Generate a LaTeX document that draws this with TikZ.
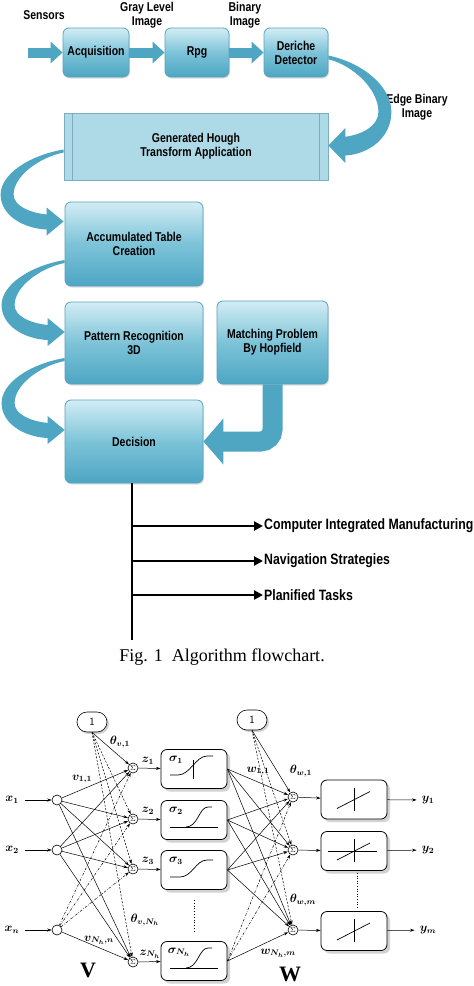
\documentclass[tikz,border=0pt]{standalone}
\usepackage{fontspec}
\setmainfont{Liberation Serif}
\newfontfamily\flfont{Liberation Sans}[FakeStretch=0.82]
\usetikzlibrary{shadows,arrows.meta,calc,shapes.misc}
\definecolor{boxtop}{HTML}{D2EDF5}
\definecolor{boxmid}{HTML}{7DC3D8}
\definecolor{boxbot}{HTML}{4DA6C3}
\definecolor{boxedge}{HTML}{5AA3BB}
\definecolor{arrowc}{HTML}{4FA6C3}
\definecolor{houghfill}{HTML}{AED9E7}
\definecolor{houghedge}{HTML}{7AAEC0}
\newcommand\bandarrow{%
 \fill[arrowc] (0,0) .. controls (-35,6) and (-63,25) .. (-63,45)
   .. controls (-63,66) and (-40,79) .. (-17,80)
   -- (-17,86) -- (0,72) -- (-17,58) -- (-17,65)
   .. controls (-35,63) and (-50,56) .. (-50,45)
   .. controls (-50,27) and (-25,8) .. (0,3) -- cycle;}
\tikzset{
 fbox/.style={rectangle, rounded corners=6pt, draw=boxedge, line width=0.8pt,
   top color=boxtop, bottom color=boxbot, middle color=boxmid,
   inner sep=0pt, align=center, font=\flfont\bfseries\fontsize{12.8}{14}\selectfont,
   drop shadow={opacity=0.25, shadow xshift=1pt, shadow yshift=-1.5pt}},
 flabel/.style={align=center, inner sep=1pt, font=\flfont\bfseries\fontsize{12.8}{14}\selectfont},
 outlabel/.style={anchor=west, inner sep=1pt, font=\flfont\bfseries\fontsize{15}{16}\selectfont},
 blockarrow/.style={line width=10pt, draw=arrowc, -{Triangle[length=12pt,width=21pt]}},
 branch/.style={line width=2.3pt, -{Triangle[length=9pt,width=9pt]}},
 nnline/.style={line width=0.5pt, -{Stealth[length=4.5pt,width=3pt]}},
 dashln/.style={dash pattern=on 2pt off 1.5pt},
 dashdot/.style={dash pattern=on 2.5pt off 1.5pt on 0.6pt off 1.5pt},
 sig/.style={circle, draw, line width=0.6pt, fill=white, inner sep=0pt, minimum size=10pt, font=\fontsize{7}{7}\selectfont},
 inc/.style={circle, draw, line width=0.6pt, fill=white, minimum size=10pt, inner sep=0pt},
 hbox/.style={rectangle, rounded corners=6pt, draw, line width=0.8pt, fill=white,
   minimum width=66pt, minimum height=39pt,
   drop shadow={shadow xshift=3pt, shadow yshift=-3pt, opacity=0.35}},
 biasn/.style={rounded rectangle, draw, line width=0.6pt, fill=white, minimum width=30pt, minimum height=20pt,
   inner sep=0pt, font=\sffamily\fontsize{11}{12}\selectfont,
   drop shadow={shadow xshift=2pt, shadow yshift=-2pt, opacity=0.35}},
 lbl/.style={inner sep=1pt, font=\fontsize{12}{13}\selectfont\boldmath},
 inner/.style={line width=0.7pt},
}
\begin{document}
\begin{tikzpicture}[x=1pt, y=-1pt]
\useasboundingbox (0,0) rectangle (474,986);
\fill[white] (0,0) rectangle (474,986);

% ---------------- flowchart ----------------
\node[flabel] (sens) at (44,15) {Sensors};
\node[flabel] (gray) at (147,15) {Gray Level\\Image};
\node[flabel] (bin) at (245,15) {Binary\\Image};
\node[flabel] (edge) at (417,107) {Edge Binary\\Image};

\node[fbox, minimum width=66pt, minimum height=49pt] (acq) at (96,52.5) {Acquisition};
\node[fbox, minimum width=64pt, minimum height=49pt] (rpg) at (197,52.5) {Rpg};
\node[fbox, minimum width=64pt, minimum height=49pt] (der) at (296,52.5) {Deriche\\Detector};

\node[rectangle, draw=houghedge, line width=0.8pt, fill=houghfill, minimum width=264pt, minimum height=67pt,
  align=center, font=\flfont\bfseries\fontsize{12.8}{14}\selectfont] (hough) at (196,146.5)
  {Generated Hough\\Transform Application};
\draw[houghedge, line width=0.8pt] ([xshift=9pt]hough.north west) -- ([xshift=9pt]hough.south west);
\draw[houghedge, line width=0.8pt] ([xshift=-9pt]hough.north east) -- ([xshift=-9pt]hough.south east);

\node[fbox, minimum width=138pt, minimum height=84pt] (acc) at (134,244) {Accumulated Table\\Creation};
\node[fbox, minimum width=138pt, minimum height=82pt] (pat) at (134,343) {Pattern Recognition\\3D};
\node[fbox, minimum width=111pt, minimum height=83pt] (mat) at (272.5,342.5) {Matching Problem\\By Hopfield};
\node[fbox, minimum width=138pt, minimum height=83pt] (dec) at (134,441.5) {Decision};

\coordinate (sensin) at (28,52.5);
\draw[blockarrow] (sensin) -- (acq.west);
\draw[blockarrow] (acq.east) -- (rpg.west);
\draw[blockarrow] (rpg.east) -- (der.west);

\begin{scope}[shift={($(der.east)+(0,3)$)}, xscale=-1, yscale=1.25] \bandarrow \end{scope}
\begin{scope}[shift={($(hough.west)+(0,3)$)}] \bandarrow \end{scope}
\begin{scope}[shift={($(acc.west)+(0,16)$)}] \bandarrow \end{scope}
\begin{scope}[shift={($(pat.west)+(0,15)$)}] \bandarrow \end{scope}

\draw[line width=20pt, draw=arrowc, rounded corners=12pt, -{Triangle[length=20pt,width=45pt]}]
  (mat.south) |- (dec.east);

\coordinate (trunkend) at (132,640);
\draw[line width=2.3pt] ([xshift=-2pt]dec.south) -- (trunkend);
\node[outlabel] (cim) at (263,526) {Computer Integrated Manufacturing};
\node[outlabel] (nav) at (263,561) {Navigation Strategies};
\node[outlabel] (pla) at (263,595) {Planified Tasks};
\draw[branch] (cim.west -| trunkend) -- (cim.west);
\draw[branch] (nav.west -| trunkend) -- (nav.west);
\draw[branch] (pla.west -| trunkend) -- (pla.west);

\node[font=\fontsize{18}{20}\selectfont] (cap) at (222,657) {Fig. 1\ \ Algorithm flowchart.};

% ---------------- neural network ----------------
\node[biasn] (b1) at (92,722) {1};
\node[biasn] (b2) at (252,720) {1};

\node[inc] (i1) at (57,800) {};
\node[inc] (i2) at (57,850) {};
\node[inc] (i3) at (57,930) {};
\node[lbl] (x1) at (12,800) {$x_1$};
\node[lbl] (x2) at (12,850) {$x_2$};
\node[lbl] (x3) at (12,930) {$x_n$};

\node[sig] (s1) at (133,768) {$\Sigma$};
\node[sig] (s2) at (133,819) {$\Sigma$};
\node[sig] (s3) at (133,869) {$\Sigma$};
\node[sig] (s4) at (133,962) {$\Sigma$};

\node[hbox] (h1) at (194,769) {};
\node[hbox] (h2) at (194,820) {};
\node[hbox] (h3) at (194,870) {};
\node[hbox] (h4) at (194,961) {};

\node[sig] (o1s) at (293,797) {$\Sigma$};
\node[sig] (o2s) at (293,850) {$\Sigma$};
\node[sig] (o3s) at (293,930) {$\Sigma$};

\node[hbox] (o1) at (354,799.5) {};
\node[hbox] (o2) at (354,851) {};
\node[hbox] (o3) at (354,931) {};

\node[lbl] (y1) at (428,800) {$y_1$};
\node[lbl] (y2) at (428,850) {$y_2$};
\node[lbl] (y3) at (428,930) {$y_m$};

% hidden box contents
\begin{scope}[shift={(h1.center)}, inner]
 \node[lbl] at (-18,-9) {$\sigma_1$};
 \draw (-24,6) -- (-16,6) .. controls (-4,6) and (2,-13) .. (13,-13) -- (19,-13);
 \draw (-1,-9) -- (-1,10);
\end{scope}
\begin{scope}[shift={(h2.center)}, inner]
 \node[lbl] at (-18,-9) {$\sigma_2$};
 \draw (-24,7) -- (24,7);
 \draw (-8,7) .. controls (4,7) and (5,-13) .. (14,-13) -- (18,-13);
\end{scope}
\begin{scope}[shift={(h3.center)}, inner]
 \node[lbl] at (-18,-9) {$\sigma_3$};
 \draw (-24,7) -- (-14,7) .. controls (-2,7) and (2,-10) .. (13,-10) -- (19,-10);
\end{scope}
\begin{scope}[shift={(h4.center)}, inner]
 \node[lbl] at (-15,-9) {$\sigma_{N_h}$};
 \draw (-24,7) -- (24,7);
 \draw (-8,7) .. controls (4,7) and (5,-13) .. (14,-13) -- (18,-13);
\end{scope}
% output box contents
\begin{scope}[shift={(o1.center)}, inner]
 \draw (-17,9) -- (16,-8); \draw (0,-12) -- (0,11);
\end{scope}
\begin{scope}[shift={(o2.center)}, inner]
 \draw (-17,9) -- (16,-8); \draw (0,-12) -- (0,11); \draw (-26,0) -- (23,0);
\end{scope}
\begin{scope}[shift={(o3.center)}, inner]
 \draw (-17,9) -- (16,-8); \draw (0,-12) -- (0,11);
\end{scope}

% connections: inputs
\draw[nnline, shorten <=5pt] (x1.east) -- (i1);
\draw[nnline, shorten <=5pt] (x2.east) -- (i2);
\draw[nnline, shorten <=5pt] (x3.east) -- (i3);
\foreach \i in {i1,i2} {
  \foreach \s in {s1,s2,s3,s4} { \draw[nnline] (\i) -- (\s); }
}
\foreach \s in {s1,s2,s3} { \draw[nnline, dashdot] (i3) -- (\s); }
\draw[nnline] (i3) -- (s4);
\draw[nnline] (b1.south) -- (s1);
\foreach \s in {s2,s3,s4} { \draw[nnline, dashln] (b1.south) -- (\s); }
\foreach \k in {1,2,3,4} { \draw[nnline] (s\k) -- (h\k); }

% connections: hidden to output
\foreach \h in {h1,h2,h3} {
  \foreach \o in {o1s,o2s,o3s} { \draw[nnline] (\h.east) -- (\o); }
}
\draw[nnline, dashdot] (h4.east) -- (o1s);
\draw[nnline, dashdot] (h4.east) -- (o2s);
\draw[nnline] (h4.east) -- (o3s);
\draw[nnline] (b2.south) -- (o1s);
\draw[nnline, dashln] (b2.south) -- (o2s);
\draw[nnline, dashln] (b2.south) -- (o3s);
\foreach \k in {1,2,3} { \draw[nnline] (o\k s) -- (o\k); }
\draw[nnline, shorten >=4pt] (o1) -- (y1);
\draw[nnline, shorten >=4pt] (o2) -- (y2);
\draw[nnline, shorten >=4pt] (o3) -- (y3);

\draw[dotted, line width=0.8pt, shorten <=10pt, shorten >=8pt] (h3.south) -- (h4.north);
\draw[dotted, line width=0.6pt, shorten <=2pt, shorten >=2pt] ([xshift=3pt]o2.south) -- ([xshift=3pt]o3.north);

% weight labels
\node[lbl] (tv1) at (120,742) {$\theta_{v,1}$};
\node[lbl] (v11) at (82,779) {$v_{1,1}$};
\node[lbl] (tvn) at (145,920) {$\theta_{v,N_h}$};
\node[lbl] (vnn) at (99,940) {$v_{N_h,n}$};
\node[lbl] (z1) at (148,761) {$z_1$};
\node[lbl] (z2) at (148,811) {$z_2$};
\node[lbl] (z3) at (148,861) {$z_3$};
\node[lbl] (z4) at (150,954) {$z_{N_h}$};
\node[lbl] (w11) at (258,771) {$w_{1,1}$};
\node[lbl] (tw1) at (301,771) {$\theta_{w,1}$};
\node[lbl] (twm) at (303,900) {$\theta_{w,m}$};
\node[lbl] (wnm) at (278,953) {$w_{N_h,m}$};
\node[inner sep=0pt, font=\bfseries\fontsize{22}{24}\selectfont] (V) at (88,970) {V};
\node[inner sep=0pt, font=\bfseries\fontsize{22}{24}\selectfont] (W) at (290,974) {W};
\end{tikzpicture}
\end{document}
